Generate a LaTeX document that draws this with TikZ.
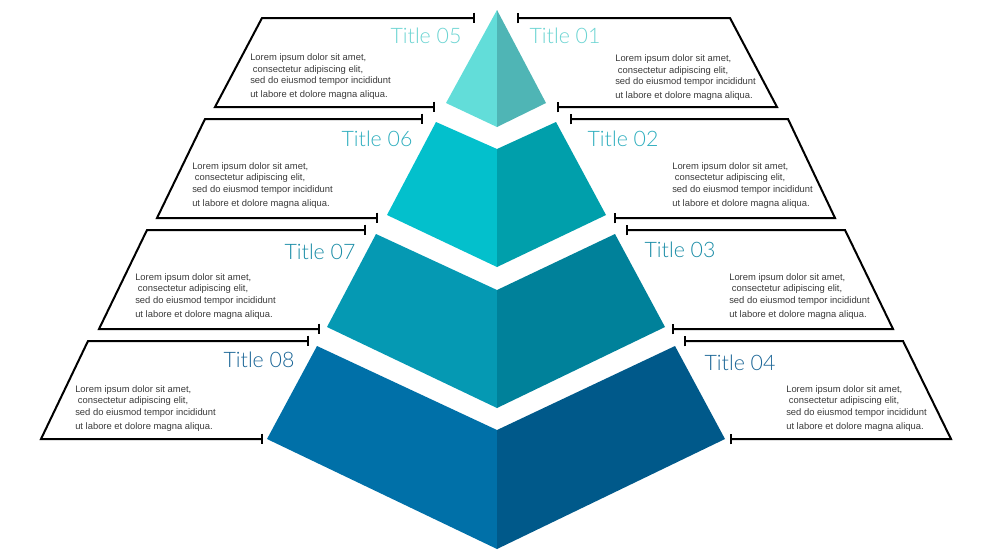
\documentclass[tikz,border=0pt]{standalone}
\usepackage{fontspec}
\setmainfont{Liberation Sans}
\newfontfamily\titlefont{Lato Light}
\usetikzlibrary{arrows.meta}
\definecolor{a1}{HTML}{62DDD9}\definecolor{a2}{HTML}{4FB5B5}
\definecolor{b1}{HTML}{03C0CC}\definecolor{b2}{HTML}{009FAB}
\definecolor{c1}{HTML}{0599B3}\definecolor{c2}{HTML}{00819A}
\definecolor{d1}{HTML}{0070A8}\definecolor{d2}{HTML}{00598A}
\definecolor{ta}{HTML}{6CD4D2}\definecolor{tb}{HTML}{2FAEBE}
\definecolor{tc}{HTML}{1A8CA6}\definecolor{td}{HTML}{1A6596}
\definecolor{bodytext}{HTML}{3A3A3A}
\tikzset{
 frameline/.style={draw=black,line width=1.5pt,{Bar[width=8pt,length=1.5pt]}-{Bar[width=8pt,length=1.5pt]},line join=miter},
 facet/.style={draw=none},
 body/.style={anchor=north west,align=left,inner sep=0pt,font=\fontsize{7.05}{8.6}\selectfont,text=bodytext},
 ttl/.style={anchor=center,inner sep=0pt,font=\titlefont\fontsize{16}{18}\selectfont},
}
\newcommand{\lorem}{Lorem ipsum dolor sit amet,\\[0.2pt]
\hspace*{2pt}consectetur adipiscing elit,\\[-0.2pt]
sed do eiusmod tempor incididunt\\[2.2pt]
ut labore et dolore magna aliqua.}
\begin{document}
\begin{tikzpicture}[x=0.75pt,y=-0.75pt]
\useasboundingbox (0,0) rectangle (992,558);
% pyramid
\fill[facet,a1] (497,10)--(446,103)--(497,127)--cycle;
\fill[facet,a2] (497,10)--(546,103)--(497,127)--cycle;
\fill[facet,b1] (497,149)--(436,122)--(387,215)--(497,267)--cycle;
\fill[facet,b2] (497,149)--(556,122)--(606,215)--(497,267)--cycle;
\fill[facet,c1] (497,290)--(376,234)--(327,327)--(497,408)--cycle;
\fill[facet,c2] (497,290)--(615,234)--(665,327)--(497,408)--cycle;
\fill[facet,d1] (497,430)--(317,346)--(267,439)--(497,549)--cycle;
\fill[facet,d2] (497,430)--(675,346)--(725,439)--(497,549)--cycle;
% frames
\draw[frameline] (475,18)--(262,18)--(215,107)--(435,107);
\draw[frameline] (517,18)--(730,18)--(777,107)--(557,107);
\draw[frameline] (423,119)--(205,119)--(157,218)--(378,218);
\draw[frameline] (570,119)--(788,119)--(835,218)--(614,218);
\draw[frameline] (366,230)--(147,230)--(99,329)--(320,329);
\draw[frameline] (626,230)--(845,230)--(893,329)--(672,329);
\draw[frameline] (309,341)--(88,341)--(41,439)--(263,439);
\draw[frameline] (684,341)--(903,341)--(951,439)--(730,439);
% titles
\node[ttl,text=ta] (t5) at (426,35.5) {Title 05};
\node[ttl,text=ta] (t1) at (565,35.5) {Title 01};
\node[ttl,text=tb] (t6) at (377,138.5) {Title 06};
\node[ttl,text=tb] (t2) at (623,138.5) {Title 02};
\node[ttl,text=tc] (t7) at (320,251.5) {Title 07};
\node[ttl,text=tc] (t3) at (680,249.5) {Title 03};
\node[ttl,text=td] (t8) at (259,359.5) {Title 08};
\node[ttl,text=td] (t4) at (740,362.5) {Title 04};
% body
\node[body] (p5) at (250,53.5) {\lorem};
\node[body] (p1) at (615,54.5) {\lorem};
\node[body] (p6) at (192,162) {\lorem};
\node[body] (p2) at (672,162) {\lorem};
\node[body] (p7) at (135,273) {\lorem};
\node[body] (p3) at (729,273) {\lorem};
\node[body] (p8) at (75,385) {\lorem};
\node[body] (p4) at (786,385) {\lorem};
\end{tikzpicture}
\end{document}
